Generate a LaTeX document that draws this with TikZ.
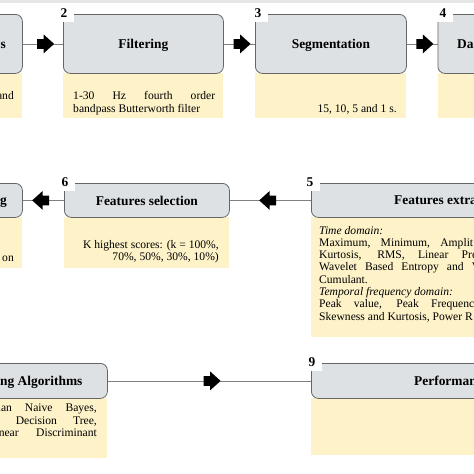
\documentclass[tikz,border=0pt]{standalone}
\usepackage{fontspec}
\setmainfont{Liberation Serif}
\usetikzlibrary{shapes.arrows}

\definecolor{boxgray}{HTML}{DDE1E4}
\definecolor{edgegray}{HTML}{666666}
\definecolor{notefill}{HTML}{FDF2C8}
\definecolor{linegray}{HTML}{808080}
\definecolor{stripgray}{HTML}{E6E6E6}

\tikzset{
  stage/.style={draw=edgegray, fill=boxgray, rounded corners=7pt, line width=0.8pt,
    anchor=north west, inner sep=0pt, text depth=0pt,
    font=\fontsize{13.4}{15}\selectfont\bfseries},
  stagetext/.style={inner sep=0pt, font=\fontsize{13.4}{15}\selectfont\bfseries},
  stepnum/.style={fill=white, minimum width=19pt, minimum height=18pt, inner sep=0pt,
    font=\fontsize{13.4}{15}\selectfont\bfseries},
  note/.style={inner sep=0pt, align=left, font=\fontsize{11.6}{12.5}\selectfont},
  panel/.style={fill=notefill},
  link/.style={draw=linegray, line width=0.8pt},
  fatarrow/.style={single arrow, fill=black, inner sep=0pt, text width=0pt,
    text height=4.5pt, text depth=4.5pt, minimum height=17pt,
    minimum width=18pt, single arrow head extend=4.5pt, single arrow tip angle=84},
}

\begin{document}
\begin{tikzpicture}[x=1pt, y=-1pt]
        % page frame
        \useasboundingbox (0,0) rectangle (474,474);
        \clip (0,0) rectangle (474,474);
        \fill[stripgray] (0,0) rectangle (474,2.5);

        % draw note panels
        \foreach \xa/\ya/\xb/\yb in {-100/73/22/118, 63/73/223/118, 255/73/406/118,
            437.5/73/600/118, -100/217/22/268, 64/217/229/268, 311/217/600/337,
            -100/398/106.5/458, 311/398/600/455}
          \fill[panel] (\xa,\ya) rectangle (\xb,\yb);

        % draw stage boxes
        \node[stage, minimum width=122pt, minimum height=59pt] (b1) at (-100,14) {};
        \node[stage, minimum width=160pt, minimum height=59pt] (b2) at (63,14) {Filtering};
        \node[stage, minimum width=151pt, minimum height=59pt] (b3) at (255,14) {Segmentation};
        \node[stage, minimum width=170pt, minimum height=59pt] (b4) at (437.5,14) {};
        \node[stage, minimum width=122pt, minimum height=34pt] (b7) at (-100,183) {};
        \node[stage, minimum width=165pt, minimum height=34pt] (b6) at (64,183) {Features selection};
        \node[stage, minimum width=290pt, minimum height=34pt] (b5) at (311,183) {};
        \node[stage, minimum width=207pt, minimum height=35pt] (b8) at (-100,363) {};
        \node[stage, minimum width=290pt, minimum height=35pt] (b9) at (311,363) {};

        % titles cut by the frame
        \node[stagetext, anchor=base east] (t1) at (6,48) {s};
        \node[stagetext, anchor=base west] (t4) at (457,48) {Da};
        \node[stagetext, anchor=base east] (t7) at (7,204.5) {g};
        \node[stagetext, anchor=base west] (t5) at (394,204.5) {Features extra};
        \node[stagetext, anchor=base west] (t8) at (0,385.5) {ng Algorithms};
        \node[stagetext, anchor=base west] (t9) at (414,385.5) {Performan};

        % step numbers
        \node[stepnum] (n2) at (64,13) {2};
        \node[stepnum] (n3) at (258,13) {3};
        \node[stepnum] (n4) at (443,13) {4};
        \node[stepnum] (n5) at (310,182) {5};
        \node[stepnum] (n6) at (65,182) {6};
        \node[stepnum] (n9) at (312,362) {9};

        % draw connectors
        \foreach \a/\b in {b1/b2, b2/b3, b3/b4, b8/b9}
          \draw[link] (\a) -- node[fatarrow] {} (\b);
        \foreach \a/\b in {b5/b6, b6/b7}
          \draw[link] (\a) -- node[fatarrow, shape border rotate=180] {} (\b);

        % draw notes (anchored at the last line)
        \node[note, anchor=base east] (p1) at (14,99.5) {and};
        \node[note, anchor=base west] (p2) at (73,112)
          {\makebox[142pt][s]{1-30 Hz fourth order}\\bandpass Butterworth filter};
        \node[note, anchor=base east] (p3) at (397,112) {15, 10, 5 and 1 s.};
        \node[note, anchor=base east] (p7) at (14,261) {on};
        \node[note, align=right, anchor=base east] (p6) at (219,260.5)
          {K highest scores: (k = 100\%,\\70\%, 50\%, 30\%, 10\%)};
        \node[note, anchor=base west, font=\fontsize{11.6}{12.3}\selectfont] (p5) at (319,320.1)
          {\textit{Time domain:}\\
           \makebox[154pt][s]{Maximum, Minimum, Amplit}\\
           \makebox[158pt][s]{Kurtosis, RMS, Linear Pre}\\
           \makebox[161pt][s]{Wavelet Based Entropy and V}\\
           Cumulant.\\
           \textit{Temporal frequency domain:}\\
           \makebox[163pt][s]{Peak value, Peak Frequency,}\\
           Skewness and Kurtosis, Power R};
        \node[note, align=right, anchor=base east] (p8) at (97,436.5)
          {\makebox[99pt][s]{ian Naive Bayes,}\\
           \makebox[81pt][s]{Decision Tree,}\\
           \makebox[98pt][s]{near Discriminant}};
\end{tikzpicture}
\end{document}
